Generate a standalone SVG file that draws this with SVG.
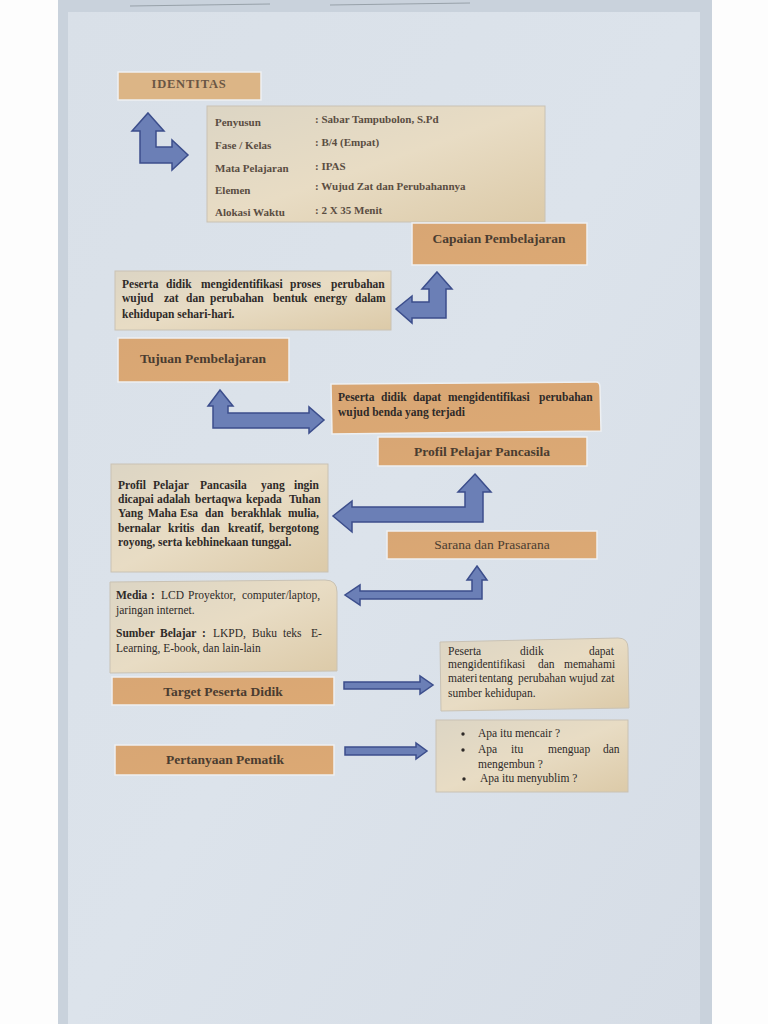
<svg xmlns="http://www.w3.org/2000/svg" width="768" height="1024" viewBox="0 0 768 1024">
<defs>
<linearGradient id="paper" x1="0" y1="0" x2="1" y2="1">
<stop offset="0" stop-color="#d9e0e8"/>
<stop offset="0.5" stop-color="#dce3eb"/>
<stop offset="1" stop-color="#d6dde6"/>
</linearGradient>
<linearGradient id="beige" x1="0" y1="0" x2="1" y2="1">
<stop offset="0" stop-color="#dcd5c4"/>
<stop offset="0.5" stop-color="#e8dcc4"/>
<stop offset="1" stop-color="#dccaa8"/>
</linearGradient>
<linearGradient id="tan" x1="0" y1="0" x2="1" y2="1">
<stop offset="0" stop-color="#d8a674"/>
<stop offset="1" stop-color="#dca974"/>
</linearGradient>
</defs>
<style>
.tan{fill:url(#tan);stroke:#eef0f2;stroke-width:1.5}
.lt{fill:#dcb586;stroke:#eef0f2;stroke-width:1.5}
.bg{fill:url(#beige);stroke:#c9c2b4;stroke-width:1}
.arr{fill:#6b7fb6;stroke:#3c4e8c;stroke-width:1.5;stroke-linejoin:miter}
.h{font-family:"Liberation Serif",serif;font-weight:bold;font-size:13.5px;fill:#4a3c30;text-anchor:middle}
.b{font-family:"Liberation Serif",serif;font-weight:bold;font-size:11.5px;fill:#2e2a28}
.id{font-family:"Liberation Serif",serif;font-weight:bold;font-size:11px;fill:#5a4d42}
.n{font-family:"Liberation Serif",serif;font-size:11.5px;fill:#2e2a28}
</style>
<rect x="0" y="0" width="768" height="1024" fill="#fdfdfd"/>
<rect x="58" y="0" width="654" height="1024" fill="#c9d2dc"/>
<rect x="68" y="12" width="632" height="1012" fill="url(#paper)"/>
<g stroke="#8a949c" stroke-width="0.8" fill="none">
<line x1="130" y1="6" x2="270" y2="4"/>
<line x1="330" y1="5" x2="470" y2="3"/>
</g>

<g id="connectors">
<polygon class="arr" points="148,113 164,131 156,131 156,147 172,147 172,140 188,155 172,170 172,163 140,163 140,131 132,131"/>
<polygon class="arr" points="437,272 452,289 446,289 446,318 412,318 412,323 396,309 412,296 412,302 429,302 429,289 422,289"/>
<polygon class="arr" points="220,390 233,406 228,406 228,413 309,413 309,407 324,420 309,433 309,428 213,428 213,406 208,406"/>
<polygon class="arr" points="475,474 491,492 483,492 483,522 352,522 352,532 333,516 352,501 352,507 465,507 465,492 458,492"/>
<polygon class="arr" points="477,566 487,580 482,580 482,599 360,599 360,605 345,595 360,585 360,591 472,591 472,580 467,580"/>
<polygon class="arr" points="344,682 420,682 420,676 433,685 420,694 420,689 344,689"/>
<polygon class="arr" points="345,747 416,747 416,743 427,751 416,759 416,755 345,755"/>
</g>

<g id="identitas">
<rect class="lt" x="118" y="72" width="143" height="28"/>
<text class="h" x="189" y="88" style="fill:#6a5644;font-size:12.5px;letter-spacing:0.8px">IDENTITAS</text>
</g>

<g id="identitas-detail">
<rect class="bg" x="207" y="106" width="338" height="116"/>
<text class="id" x="215" y="126">Penyusun</text><text class="id" x="315" y="123">: Sabar Tampubolon, S.Pd</text>
<text class="id" x="215" y="149">Fase / Kelas</text><text class="id" x="315" y="146">: B/4 (Empat)</text>
<text class="id" x="215" y="172">Mata Pelajaran</text><text class="id" x="315" y="170">: IPAS</text>
<text class="id" x="215" y="194">Elemen</text><text class="id" x="315" y="190">: Wujud Zat dan Perubahannya</text>
<text class="id" x="215" y="216">Alokasi Waktu</text><text class="id" x="315" y="214">: 2 X 35 Menit</text>
</g>

<g id="capaian">
<rect class="tan" x="412" y="223" width="175" height="42"/>
<text class="h" x="499" y="243">Capaian Pembelajaran</text>
</g>

<g id="capaian-text">
<rect class="bg" x="115" y="271" width="276" height="59"/>
<text class="b" y="288"><tspan x="122">Peserta</tspan><tspan x="166">didik</tspan><tspan x="201">mengidentifikasi</tspan><tspan x="290">proses</tspan><tspan x="331">perubahan</tspan></text>
<text class="b" y="302"><tspan x="122">wujud</tspan><tspan x="164">zat</tspan><tspan x="186">dan</tspan><tspan x="210">perubahan</tspan><tspan x="273">bentuk</tspan><tspan x="314">energy</tspan><tspan x="355">dalam</tspan></text>
<text class="b" x="122" y="318">kehidupan sehari-hari.</text>
</g>

<g id="tujuan">
<rect class="tan" x="118" y="338" width="171" height="44"/>
<text class="h" x="203" y="363">Tujuan Pembelajaran</text>
</g>

<g id="tujuan-text">
<path class="tan" d="M331,384 L596,382 Q600,382 600,387 L601,431 L332,434 Z"/>
<text class="b" y="401"><tspan x="338">Peserta</tspan><tspan x="381">didik</tspan><tspan x="413">dapat</tspan><tspan x="448">mengidentifikasi</tspan><tspan x="539">perubahan</tspan></text>
<text class="b" x="338" y="416">wujud benda yang terjadi</text>
</g>

<g id="profil">
<rect class="tan" x="378" y="437" width="209" height="29"/>
<text class="h" x="482" y="456">Profil Pelajar Pancasila</text>
</g>

<g id="profil-text">
<rect class="bg" x="111" y="464" width="217" height="108"/>
<text class="b" y="489"><tspan x="118">Profil</tspan><tspan x="153">Pelajar</tspan><tspan x="200">Pancasila</tspan><tspan x="261">yang</tspan><tspan x="294">ingin</tspan></text>
<text class="b" y="503"><tspan x="118">dicapai</tspan><tspan x="157">adalah</tspan><tspan x="195">bertaqwa</tspan><tspan x="246">kepada</tspan><tspan x="289">Tuhan</tspan></text>
<text class="b" y="517"><tspan x="118">Yang</tspan><tspan x="148">Maha</tspan><tspan x="180">Esa</tspan><tspan x="205">dan</tspan><tspan x="231">berakhlak</tspan><tspan x="288">mulia,</tspan></text>
<text class="b" y="532"><tspan x="118">bernalar</tspan><tspan x="168">kritis</tspan><tspan x="201">dan</tspan><tspan x="228">kreatif,</tspan><tspan x="269">bergotong</tspan></text>
<text class="b" x="118" y="546">royong, serta kebhinekaan tunggal.</text>
</g>

<g id="sarana">
<rect class="tan" x="387" y="531" width="210" height="28"/>
<text class="h" x="492" y="549" style="font-weight:normal">Sarana dan Prasarana</text>
</g>

<g id="sarana-text">
<path class="bg" d="M110,582 L325,580 Q337,580 337,592 L337,671 L110,673 Z"/>
<text class="n" y="599"><tspan x="116" font-weight="bold">Media</tspan><tspan x="151" font-weight="bold">:</tspan><tspan x="161">LCD</tspan><tspan x="188">Proyektor,</tspan><tspan x="242">computer/laptop,</tspan></text>
<text class="n" x="116" y="614">jaringan internet.</text>
<text class="n" y="637"><tspan x="116" font-weight="bold">Sumber</tspan><tspan x="160" font-weight="bold">Belajar</tspan><tspan x="202" font-weight="bold">:</tspan><tspan x="213">LKPD,</tspan><tspan x="252">Buku</tspan><tspan x="283">teks</tspan><tspan x="311">E-</tspan></text>
<text class="n" x="116" y="652">Learning, E-book, dan lain-lain</text>
</g>

<g id="target">
<rect class="tan" x="112" y="677" width="222" height="28"/>
<text class="h" x="223" y="696">Target Peserta Didik</text>
</g>

<g id="target-text">
<path class="bg" d="M440,642 L618,638 Q628,638 628,648 L629,708 L441,711 Z"/>
<text class="n" y="655"><tspan x="448">Peserta</tspan><tspan x="520">didik</tspan><tspan x="589">dapat</tspan></text>
<text class="n" y="668"><tspan x="448">mengidentifikasi</tspan><tspan x="538">dan</tspan><tspan x="564">memahami</tspan></text>
<text class="n" y="682"><tspan x="448">materi</tspan><tspan x="479">tentang</tspan><tspan x="518">perubahan</tspan><tspan x="569">wujud</tspan><tspan x="601">zat</tspan></text>
<text class="n" x="448" y="697">sumber kehidupan.</text>
</g>

<g id="pematik">
<rect class="tan" x="115" y="745" width="219" height="30"/>
<text class="h" x="225" y="764">Pertanyaan Pematik</text>
</g>

<g id="pematik-text">
<rect class="bg" x="436" y="720" width="192" height="72"/>
<g fill="#2e2a28"><circle cx="463" cy="734" r="1.7"/><circle cx="463" cy="750" r="1.7"/><circle cx="464" cy="779" r="1.7"/></g>
<text class="n" x="478" y="737">Apa itu mencair ?</text>
<text class="n" y="753"><tspan x="478">Apa</tspan><tspan x="511">itu</tspan><tspan x="548">menguap</tspan><tspan x="603">dan</tspan></text>
<text class="n" x="478" y="768">mengembun ?</text>
<text class="n" x="480" y="782">Apa itu menyublim ?</text>
</g>
</svg>
